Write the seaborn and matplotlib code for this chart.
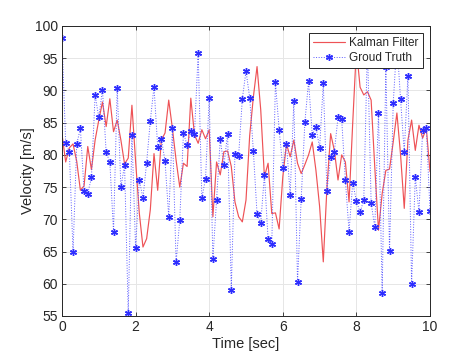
import numpy as np
import matplotlib
matplotlib.use('Agg')
import matplotlib.pyplot as plt
import seaborn as sns

# ============================================================================
# DATA (dt = 0.1 s)
# ============================================================================

time_sec = np.round(np.arange(0, 101) * 0.1, 1)

ground_truth = [
    98.1, 81.8, 80.4, 64.9, 81.7, 84.1, 74.4, 74.0, 76.5, 89.3,
    85.8, 90.1, 80.4, 78.9, 68.1, 90.4, 75.0, 78.4, 55.5, 83.1,
    65.5, 76.1, 73.3, 78.8, 85.3, 90.6, 81.2, 82.5, 79.0, 70.4,
    84.1, 63.3, 69.9, 83.4, 81.5, 83.7, 83.3, 95.8, 73.3, 76.3,
    88.8, 63.9, 73.0, 82.4, 78.4, 83.3, 59.1, 80.2, 79.9, 88.7,
    93.0, 88.9, 80.6, 70.8, 69.4, 76.9, 66.9, 66.1, 91.3, 83.9,
    78.0, 81.7, 73.8, 88.4, 60.3, 73.2, 85.1, 91.4, 83.1, 84.3,
    81.1, 91.1, 74.4, 79.7, 80.5, 85.8, 85.5, 76.1, 68.1, 75.7,
    72.8, 71.1, 73.0, 97.0, 72.5, 68.8, 86.5, 58.6, 93.7, 65.1,
    88.0, 97.5, 88.6, 80.4, 92.3, 60.0, 76.6, 71.1, 83.9, 84.1,
    71.3,
]

kalman = [
    83.2, 78.9, 81.1, 81.7, 79.0, 74.5, 75.2, 81.3, 77.7, 82.3,
    85.4, 88.2, 84.4, 88.7, 83.6, 85.4, 82.3, 78.6, 79.5, 87.7,
    79.0, 71.0, 65.7, 67.0, 71.5, 80.2, 74.5, 82.3, 83.4, 88.5,
    84.1, 79.2, 75.0, 78.7, 78.2, 88.8, 83.1, 81.8, 83.9, 82.5,
    83.9, 70.4, 78.9, 76.9, 80.5, 80.6, 78.2, 72.7, 70.4, 69.6,
    73.0, 83.0, 89.0, 93.7, 87.0, 76.6, 78.7, 70.9, 71.0, 68.5,
    76.6, 81.7, 79.7, 82.3, 78.7, 77.1, 78.5, 80.0, 82.0, 77.6,
    72.0, 63.4, 75.0, 83.3, 80.7, 76.1, 80.0, 78.9, 72.7, 85.0,
    96.5, 90.5, 89.3, 89.8, 88.5, 78.0, 68.3, 74.0, 77.6, 77.8,
    82.0, 86.5, 80.0, 71.7, 82.3, 85.4, 80.7, 84.6, 82.6, 84.1,
    77.4,
]

x_ticks = [0, 2, 4, 6, 8, 10]
y_ticks = [55, 60, 65, 70, 75, 80, 85, 90, 95, 100]

# ============================================================================
# STYLE
# ============================================================================

sns.set_style('whitegrid')
plt.rcParams['font.family'] = ['Liberation Sans', 'DejaVu Sans']

fig = plt.figure(figsize=(4.74, 3.55), dpi=100)
ax = fig.add_axes([0.1308, 0.1099, 0.7764, 0.8169])

# ============================================================================
# PLOT
# ============================================================================

sns.lineplot(x=time_sec, y=kalman, ax=ax, color='#EE5256', linewidth=0.85,
             label='Kalman Filter', estimator=None, sort=False)
sns.lineplot(x=time_sec, y=ground_truth, ax=ax, color='#5A5AFF', linewidth=0.7,
             linestyle=':', marker=(6, 2, 0), markersize=5,
             markeredgewidth=1.0, markeredgecolor='#2E2EFF',
             label='Groud Truth', estimator=None, sort=False)

ax.set_xlim(0, 10)
ax.set_ylim(55, 100)
ax.set_xticks(x_ticks)
ax.set_yticks(y_ticks)
ax.set_xlabel('Time [sec]', fontsize=10.5, color='#262626', labelpad=2)
ax.set_ylabel('Velocity [m/s]', fontsize=10.5, color='#262626', labelpad=0)

ax.grid(True, color='#E6E6E6', linewidth=0.7)
for sp in ax.spines.values():
    sp.set_color('#262626')
    sp.set_linewidth(0.7)
ax.tick_params(axis='both', direction='in', length=3, width=0.6,
               labelsize=10, colors='#262626', pad=3,
               top=True, right=True, bottom=True, left=True)

leg = ax.legend(loc='upper right', fontsize=8.5, frameon=True, fancybox=False,
                framealpha=1, edgecolor='#262626', borderpad=0.35,
                handlelength=2.7, handletextpad=0.35, labelspacing=0.25,
                borderaxespad=0.6)
leg.get_frame().set_linewidth(0.7)

fig.savefig('out.png', dpi=100, facecolor='white')
